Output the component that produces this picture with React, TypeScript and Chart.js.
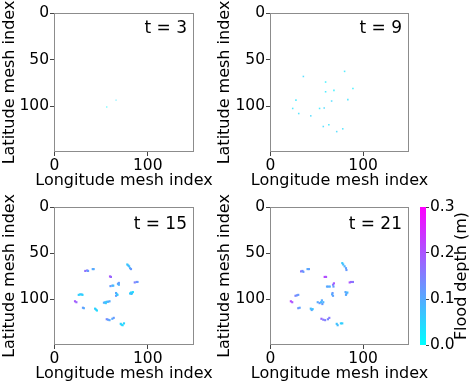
import React, { useEffect, useRef } from "react";
import { Chart, registerables } from "chart.js";

Chart.register(...registerables);

// ---------- data ----------
const panelLabels = ["t = 3", "t = 9", "t = 15", "t = 21"];
const xTickValues = [0, 100];
const yTickValues = [0, 50, 100];
const gridMin = -0.5;
const gridMax = 149.5;
const colorbarTicks = [0, 0.1, 0.2, 0.3];
const depthMin = 0;
const depthMax = 0.3;
const xAxisTitle = "Longitude mesh index";
const yAxisTitle = "Latitude mesh index";
const colorbarTitle = "Flood depth (m)";

type Cell = [number, number, number]; // [lon index, lat index, depth m]

const cellsT3: Cell[] = [
  [66, 93.5, 0.03],
  [56, 101, 0.01],
];

const cellsT9: Cell[] = [
  [35.5, 68, 0.05],
  [80, 62.5, 0.03],
  [59.5, 74, 0.02],
  [59.5, 84.5, 0.03],
  [68.5, 83, 0.02],
  [89, 81, 0.02],
  [27.5, 93.5, 0.03],
  [66, 94.5, 0.05],
  [83.5, 93, 0.04],
  [24, 102.5, 0.03],
  [53, 102.5, 0.03],
  [58, 102, 0.05],
  [30.5, 108, 0.04],
  [43.5, 110.5, 0.05],
  [57, 122, 0.05],
  [63, 120, 0.03],
  [71.5, 127.5, 0.05],
  [78, 124.5, 0.04],
];

const cellsT15: Cell[] = [
  [33, 69, 0.17], [35, 68.5, 0.15], [36, 69, 0.12], [41, 67, 0.1], [42, 67, 0.1],
  [78, 62, 0.06], [79, 63, 0.08], [80, 64, 0.07], [81, 66, 0.1], [82, 67, 0.12],
  [59.5, 75, 0.2], [60.5, 75.5, 0.18],
  [60, 85.5, 0.12], [62, 85, 0.1], [63, 85, 0.08], [68, 83, 0.1], [69, 82, 0.12], [69, 84, 0.09],
  [86, 81.5, 0.15], [88, 81, 0.14], [89, 81, 0.12],
  [66, 93, 0.1], [67, 94.5, 0.08], [66, 96, 0.12], [67.5, 95, 0.06],
  [81, 93.5, 0.06], [82, 92.5, 0.05], [83, 93, 0.08], [84, 92, 0.04], [82.5, 94, 0.07],
  [26, 95, 0.06], [27.5, 94.5, 0.05], [29, 94.5, 0.07], [30, 95, 0.05],
  [22, 102, 0.2], [23.5, 103, 0.18],
  [53, 103.5, 0.1], [54.5, 103, 0.08], [56, 102.5, 0.07], [57.5, 102.5, 0.09], [59, 102, 0.1], [55, 104, 0.06],
  [30.5, 109, 0.12], [31.5, 109.5, 0.1],
  [43.5, 110, 0.05], [44.5, 111, 0.06], [45.5, 112, 0.04],
  [56, 121.5, 0.14], [57.5, 122, 0.12], [59, 122.5, 0.1], [62, 121, 0.1], [63.5, 120, 0.12],
  [71, 126.5, 0.05], [72, 127.5, 0.06], [73, 128, 0.04], [74.5, 126, 0.05],
];

const cellsT21: Cell[] = [
  [33, 69.5, 0.16], [34.5, 69, 0.14], [35.5, 70, 0.12], [40, 67, 0.1], [41.5, 67, 0.11],
  [77.5, 60.5, 0.06], [78.5, 62, 0.08], [80, 64, 0.09], [81.5, 66, 0.11], [82, 68, 0.12],
  [58.5, 75.5, 0.22], [60, 75.5, 0.2],
  [61, 86, 0.1], [62.5, 86, 0.11], [64, 86, 0.09], [67.5, 84, 0.15], [68.5, 82.5, 0.2], [68, 86, 0.12],
  [85.5, 81.5, 0.2], [87, 81, 0.18], [89, 81, 0.16],
  [67, 93, 0.12], [66.5, 94.5, 0.1], [67.5, 96, 0.11],
  [81, 92, 0.1], [82, 93.5, 0.12], [83, 92.5, 0.08], [81.5, 95, 0.1],
  [27, 96, 0.15], [28.5, 95.5, 0.13], [30, 95, 0.12],
  [22, 102, 0.22], [23.5, 103, 0.2],
  [51, 103, 0.1], [53, 104, 0.12], [54.5, 103, 0.08], [55.5, 101, 0.1], [56, 105, 0.12], [57, 103, 0.09],
  [30, 109.5, 0.13], [31.5, 109, 0.11],
  [43.5, 110, 0.08], [44.5, 111.5, 0.1], [45.5, 110.5, 0.07],
  [55, 121, 0.18], [57, 122, 0.16], [59, 122.5, 0.15], [62, 121.5, 0.14], [63.5, 120, 0.16],
  [71.5, 126.5, 0.07], [72.5, 128, 0.08], [76, 126, 0.05], [77.5, 126, 0.06],
];

const panelCells: Cell[][] = [cellsT3, cellsT9, cellsT15, cellsT21];

// ---------- styling / layout ----------
const FONT = '"DejaVu Sans", "Liberation Sans", sans-serif';
const TICK_SIZE = 15.5;
const TITLE_SIZE = 16;

const panelLayout = [
  { left: 0, top: 0, width: 237, height: 195, padTop: 13, padRight: 43, yW: 54, xH: 43, r: 1.0, a: 0.5, ly: 20 },
  { left: 215, top: 0, width: 259, height: 195, padTop: 13, padRight: 65, yW: 55, xH: 43, r: 1.1, a: 0.75, ly: 20 },
  { left: 0, top: 194, width: 237, height: 193, padTop: 13, padRight: 43, yW: 54, xH: 42, r: 1.5, a: 1, ly: 22 },
  { left: 215, top: 194, width: 259, height: 193, padTop: 13, padRight: 65, yW: 55, xH: 42, r: 1.5, a: 1, ly: 22 },
];

const cbLayout = { left: 410, top: 194, width: 64, height: 189, padLeft: 10, padTop: 13, padBottom: 38, yW: 48, titleX: 51.5 };

function cool(v: number, a = 1): string {
  const t = Math.max(0, Math.min(1, (v - depthMin) / (depthMax - depthMin)));
  return `rgba(${Math.round(255 * t)},${Math.round(255 * (1 - t))},255,${a})`;
}

const framePlugin = {
  id: "frame",
  afterDraw(chart: any) {
    const { ctx, chartArea } = chart;
    ctx.save();
    ctx.strokeStyle = "#8c8c8c";
    ctx.lineWidth = 1;
    const l = Math.round(chartArea.left) + 0.5;
    const t = Math.round(chartArea.top) + 0.5;
    const r = Math.round(chartArea.right) - 0.5;
    const b = Math.round(chartArea.bottom) - 0.5;
    ctx.strokeRect(l, t, r - l, b - t);
    ctx.restore();
  },
};

const labelPlugin = {
  id: "panelLabel",
  afterDraw(chart: any, _args: any, opts: any) {
    const { ctx, chartArea } = chart;
    ctx.save();
    ctx.fillStyle = "#000";
    ctx.font = `17px ${FONT}`;
    ctx.textAlign = "right";
    ctx.textBaseline = "alphabetic";
    ctx.fillText(opts.text, chartArea.right - 7, chartArea.top + opts.dy);
    // x axis title (drawn here so it is not squeezed to the plot width)
    ctx.font = `${TITLE_SIZE}px ${FONT}`;
    ctx.textAlign = "center";
    ctx.textBaseline = "middle";
    ctx.fillText(opts.xTitle, (chartArea.left + chartArea.right) / 2, chartArea.bottom + 29);
    ctx.restore();
  },
};

const gradientPlugin = {
  id: "cbGradient",
  beforeDatasetsDraw(chart: any) {
    const { ctx, chartArea } = chart;
    const g = ctx.createLinearGradient(0, chartArea.bottom, 0, chartArea.top);
    g.addColorStop(0, cool(depthMin));
    g.addColorStop(1, cool(depthMax));
    ctx.save();
    ctx.fillStyle = g;
    ctx.fillRect(chartArea.left, chartArea.top, chartArea.right - chartArea.left, chartArea.bottom - chartArea.top);
    ctx.restore();
  },
  afterDraw(chart: any, _args: any, opts: any) {
    const { ctx, chartArea } = chart;
    ctx.save();
    ctx.fillStyle = "#000";
    ctx.font = `${TITLE_SIZE}px ${FONT}`;
    ctx.textAlign = "center";
    ctx.textBaseline = "middle";
    ctx.translate(opts.x, (chartArea.top + chartArea.bottom) / 2);
    ctx.rotate(-Math.PI / 2);
    ctx.fillText(opts.text, 0, 0);
    ctx.restore();
  },
};

function axisCommon() {
  return {
    type: "linear" as const,
    min: gridMin,
    max: gridMax,
    ticks: { font: { family: FONT, size: TICK_SIZE }, color: "#000", padding: 1, maxRotation: 0, autoSkip: false },
    grid: { display: true, drawOnChartArea: false, drawTicks: true, tickLength: 4, color: "#444", lineWidth: 1 },
    border: { display: false },
  };
}

export default function App() {
  const refs = [useRef<HTMLCanvasElement>(null), useRef<HTMLCanvasElement>(null), useRef<HTMLCanvasElement>(null), useRef<HTMLCanvasElement>(null)];
  const cbRef = useRef<HTMLCanvasElement>(null);

  useEffect(() => {
    const charts: Chart[] = [];
    panelLayout.forEach((lay, i) => {
      const canvas = refs[i].current;
      if (!canvas) return;
      const cells = panelCells[i];
      const chart = new Chart(canvas, {
        type: "scatter",
        data: {
          datasets: [
            {
              data: cells.map((c) => ({ x: c[0], y: c[1] })),
              pointBackgroundColor: cells.map((c) => cool(c[2], lay.a)),
              pointBorderWidth: 0,
              pointStyle: "rect",
              pointRadius: lay.r,
              pointHoverRadius: lay.r,
            },
          ],
        },
        options: {
          animation: false,
          responsive: false,
          devicePixelRatio: 1,
          events: [],
          layout: { padding: { left: 0, top: lay.padTop, right: lay.padRight, bottom: 0 } },
          plugins: {
            legend: { display: false },
            tooltip: { enabled: false },
            panelLabel: { text: panelLabels[i], dy: lay.ly, xTitle: xAxisTitle },
          } as any,
          scales: {
            x: {
              ...axisCommon(),
              position: "bottom",
              afterBuildTicks: (s: any) => {
                s.ticks = xTickValues.map((v) => ({ value: v }));
              },
              afterFit: (s: any) => {
                s.height = lay.xH;
              },
              title: { display: false },
            },
            y: {
              ...axisCommon(),
              reverse: true,
              afterBuildTicks: (s: any) => {
                s.ticks = yTickValues.map((v) => ({ value: v }));
              },
              afterFit: (s: any) => {
                s.width = lay.yW;
              },
              title: {
                display: true,
                text: yAxisTitle,
                color: "#000",
                font: { family: FONT, size: TITLE_SIZE },
                padding: { top: 0, bottom: 0 },
              },
            },
          } as any,
        },
        plugins: [framePlugin, labelPlugin],
      });
      charts.push(chart);
    });

    if (cbRef.current) {
      const cb = new Chart(cbRef.current, {
        type: "scatter",
        data: { datasets: [{ data: [] }] },
        options: {
          animation: false,
          responsive: false,
          devicePixelRatio: 1,
          events: [],
          layout: { padding: { left: cbLayout.padLeft, top: cbLayout.padTop, right: 0, bottom: cbLayout.padBottom } },
          plugins: {
            legend: { display: false },
            tooltip: { enabled: false },
            cbGradient: { text: colorbarTitle, x: cbLayout.titleX },
          } as any,
          scales: {
            x: { display: false, min: 0, max: 1 },
            y: {
              type: "linear",
              position: "right",
              min: depthMin,
              max: depthMax,
              afterBuildTicks: (s: any) => {
                s.ticks = colorbarTicks.map((v) => ({ value: v }));
              },
              afterFit: (s: any) => {
                s.width = cbLayout.yW;
              },
              ticks: {
                font: { family: FONT, size: TICK_SIZE },
                color: "#000",
                padding: 1,
                callback: (v: any) => Number(v).toFixed(1),
              },
              grid: { display: true, drawOnChartArea: false, drawTicks: true, tickLength: 3, color: "#444" },
              border: { display: false },
            },
          } as any,
        },
        plugins: [gradientPlugin],
      });
      charts.push(cb);
    }

    return () => {
      charts.forEach((c) => c.destroy());
    };
  }, []);

  return (
    <div style={{ position: "absolute", left: 0, top: 0, width: 474, height: 383, overflow: "hidden", background: "#fff" }}>
      {panelLayout.map((lay, i) => (
        <canvas
          key={i}
          ref={refs[i]}
          width={lay.width}
          height={lay.height}
          style={{ position: "absolute", left: lay.left, top: lay.top, width: lay.width, height: lay.height }}
        />
      ))}
      <canvas
        ref={cbRef}
        width={cbLayout.width}
        height={cbLayout.height}
        style={{ position: "absolute", left: cbLayout.left, top: cbLayout.top, width: cbLayout.width, height: cbLayout.height }}
      />
    </div>
  );
}
